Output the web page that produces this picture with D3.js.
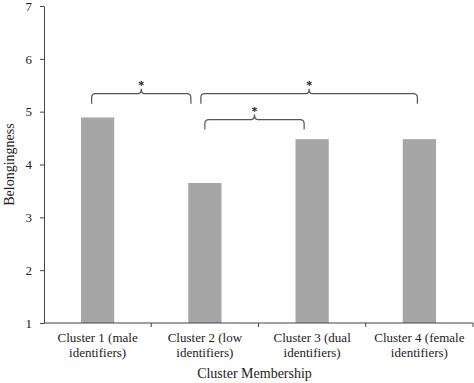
<!DOCTYPE html>
<html>
<head>
<meta charset="utf-8">
<script src="https://cdn.jsdelivr.net/npm/d3@7"></script>
<style>
  body { margin: 0; background: #fff; }
  text { font-family: "Liberation Serif", "DejaVu Serif", serif; fill: #222; }
</style>
</head>
<body>
<script>
// data
var clusters = ["Cluster 1 (male identifiers)", "Cluster 2 (low identifiers)",
                "Cluster 3 (dual identifiers)", "Cluster 4 (female identifiers)"];
var labelLines = [["Cluster 1 (male", "identifiers)"], ["Cluster 2 (low", "identifiers)"],
                  ["Cluster 3 (dual", "identifiers)"], ["Cluster 4 (female", "identifiers)"]];
var belonging = [4.89, 3.65, 4.48, 4.48];
var yTicks = [1, 2, 3, 4, 5, 6, 7];
// significance brackets: from cluster index to cluster index, at a given level
var brFrom = [0, 1, 1];
var brTo = [1, 3, 2];
var brLevel = [5.34, 5.34, 4.85];

var W = 474, H = 383;
var margin = {left: 44, right: 1, top: 6, bottom: 60};
var width = W - margin.left - margin.right,
    height = H - margin.top - margin.bottom;

var svg = d3.select("body").append("svg")
    .attr("width", W).attr("height", H)
    .append("g")
    .attr("transform", "translate(" + margin.left + "," + margin.top + ")");

var x = d3.scaleBand().domain(clusters).range([0, width]).paddingInner(0.69).paddingOuter(0.345);
var xb = d3.scaleBand().domain(clusters).range([0, width]);
var y = d3.scaleLinear().domain([1, 7]).range([height, 0]);

// bars
svg.selectAll("rect.bar")
    .data(clusters)
    .enter().append("rect")
    .attr("class", "bar")
    .attr("x", d => x(d))
    .attr("width", x.bandwidth())
    .attr("y", (d, i) => y(belonging[i]))
    .attr("height", (d, i) => height - y(belonging[i]))
    .attr("fill", "#a6a6a6");

// y axis
var yAxis = svg.append("g")
    .call(d3.axisLeft(y).tickValues(yTicks).tickFormat(d3.format("d"))
        .tickSize(4).tickPadding(8).tickSizeOuter(0));
yAxis.attr("font-family", "Liberation Serif").attr("font-size", 13);
yAxis.selectAll("text").attr("fill", "#222");
yAxis.selectAll("line, path").attr("stroke", "#444");

// x axis with ticks at band boundaries
var xAxis = svg.append("g").attr("transform", "translate(0," + height + ")");
xAxis.append("line").attr("x1", 0).attr("x2", width).attr("stroke", "#444");
xAxis.selectAll("line.tk")
    .data(clusters)
    .enter().append("line")
    .attr("class", "tk")
    .attr("x1", d => xb(d) + xb.bandwidth())
    .attr("x2", d => xb(d) + xb.bandwidth())
    .attr("y1", 0).attr("y2", 4)
    .attr("stroke", "#444");
xAxis.selectAll("text.lbl")
    .data(clusters)
    .enter().append("text")
    .attr("class", "lbl")
    .attr("text-anchor", "middle")
    .style("font-size", "13px")
    .attr("x", d => xb(d) + xb.bandwidth() / 2)
    .attr("y", 19)
    .each(function (d, i) {
        var t = d3.select(this);
        labelLines[i].forEach(function (l, k) {
            t.append("tspan").attr("x", xb(d) + xb.bandwidth() / 2).attr("dy", k ? 14.5 : 0).text(l);
        });
    });

// axis titles
svg.append("text")
    .attr("x", width / 2 - 4)
    .attr("y", height + 55)
    .attr("text-anchor", "middle")
    .style("font-size", "14px")
    .text("Cluster Membership");
svg.append("text")
    .attr("transform", "translate(" + (-30) + "," + (height / 2) + ") rotate(-90)")
    .attr("text-anchor", "middle")
    .style("font-size", "14px")
    .text("Belongingness");

// brackets
function bracket(x1, x2, yl) {
    var xm = (x1 + x2) / 2, r = 4, drop = 10;
    return "M" + x1 + "," + (yl + drop) +
        "L" + x1 + "," + (yl + r) +
        "Q" + x1 + "," + yl + " " + (x1 + r) + "," + yl +
        "L" + (xm - 3) + "," + yl +
        "Q" + xm + "," + yl + " " + xm + "," + (yl - 5) +
        "Q" + xm + "," + yl + " " + (xm + 3) + "," + yl +
        "L" + (x2 - r) + "," + yl +
        "Q" + x2 + "," + yl + " " + x2 + "," + (yl + r) +
        "L" + x2 + "," + (yl + drop);
}
var offL = [-6, -4, 0], offR = [-14, -2, -8];
brFrom.forEach(function (f, i) {
    var x1 = xb(clusters[f]) + xb.bandwidth() / 2 + offL[i];
    var x2 = xb(clusters[brTo[i]]) + xb.bandwidth() / 2 + offR[i];
    var yl = y(brLevel[i]);
    svg.append("path")
        .attr("d", bracket(x1, x2, yl))
        .attr("fill", "none")
        .attr("stroke", "#555")
        .attr("stroke-width", 1.2);
    svg.append("text")
        .attr("x", (x1 + x2) / 2)
        .attr("y", yl - 5)
        .attr("text-anchor", "middle")
        .style("font-size", "12px")
        .style("font-weight", "bold")
        .text("*");
});
</script>
</body>
</html>
